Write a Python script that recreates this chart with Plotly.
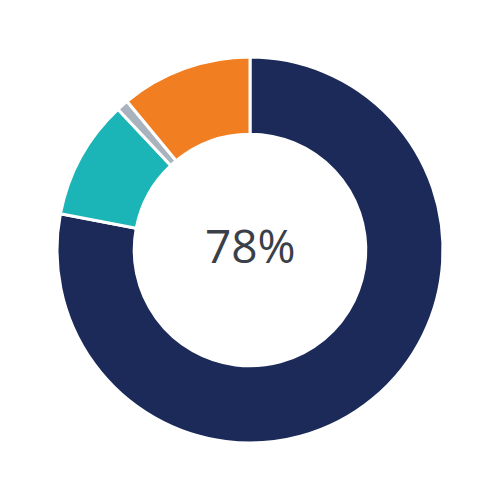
import plotly.graph_objects as go

labels = ["A", "B", "C", "D"]
values = [78, 10, 1, 11]
colors = ["#1B2A58", "#1BB5B7", "#A9B3BE", "#F27E22"]
center_text = "78%"

fig = go.Figure(go.Pie(
    labels=labels,
    values=values,
    hole=0.6,
    sort=False,
    direction="clockwise",
    rotation=0,
    marker=dict(colors=colors, line=dict(color="white", width=3)),
    textinfo="none",
    hoverinfo="none",
    showlegend=False,
))
fig.add_annotation(text=center_text, x=0.5, y=0.5, xref="paper", yref="paper",
                   showarrow=False, yshift=5,
                   font=dict(family="Open Sans", size=46, color="#3B4048"))
fig.update_layout(width=484, height=484, margin=dict(l=49, r=49, t=49, b=49),
                  paper_bgcolor="white", plot_bgcolor="white")
fig.write_html("out.html")
